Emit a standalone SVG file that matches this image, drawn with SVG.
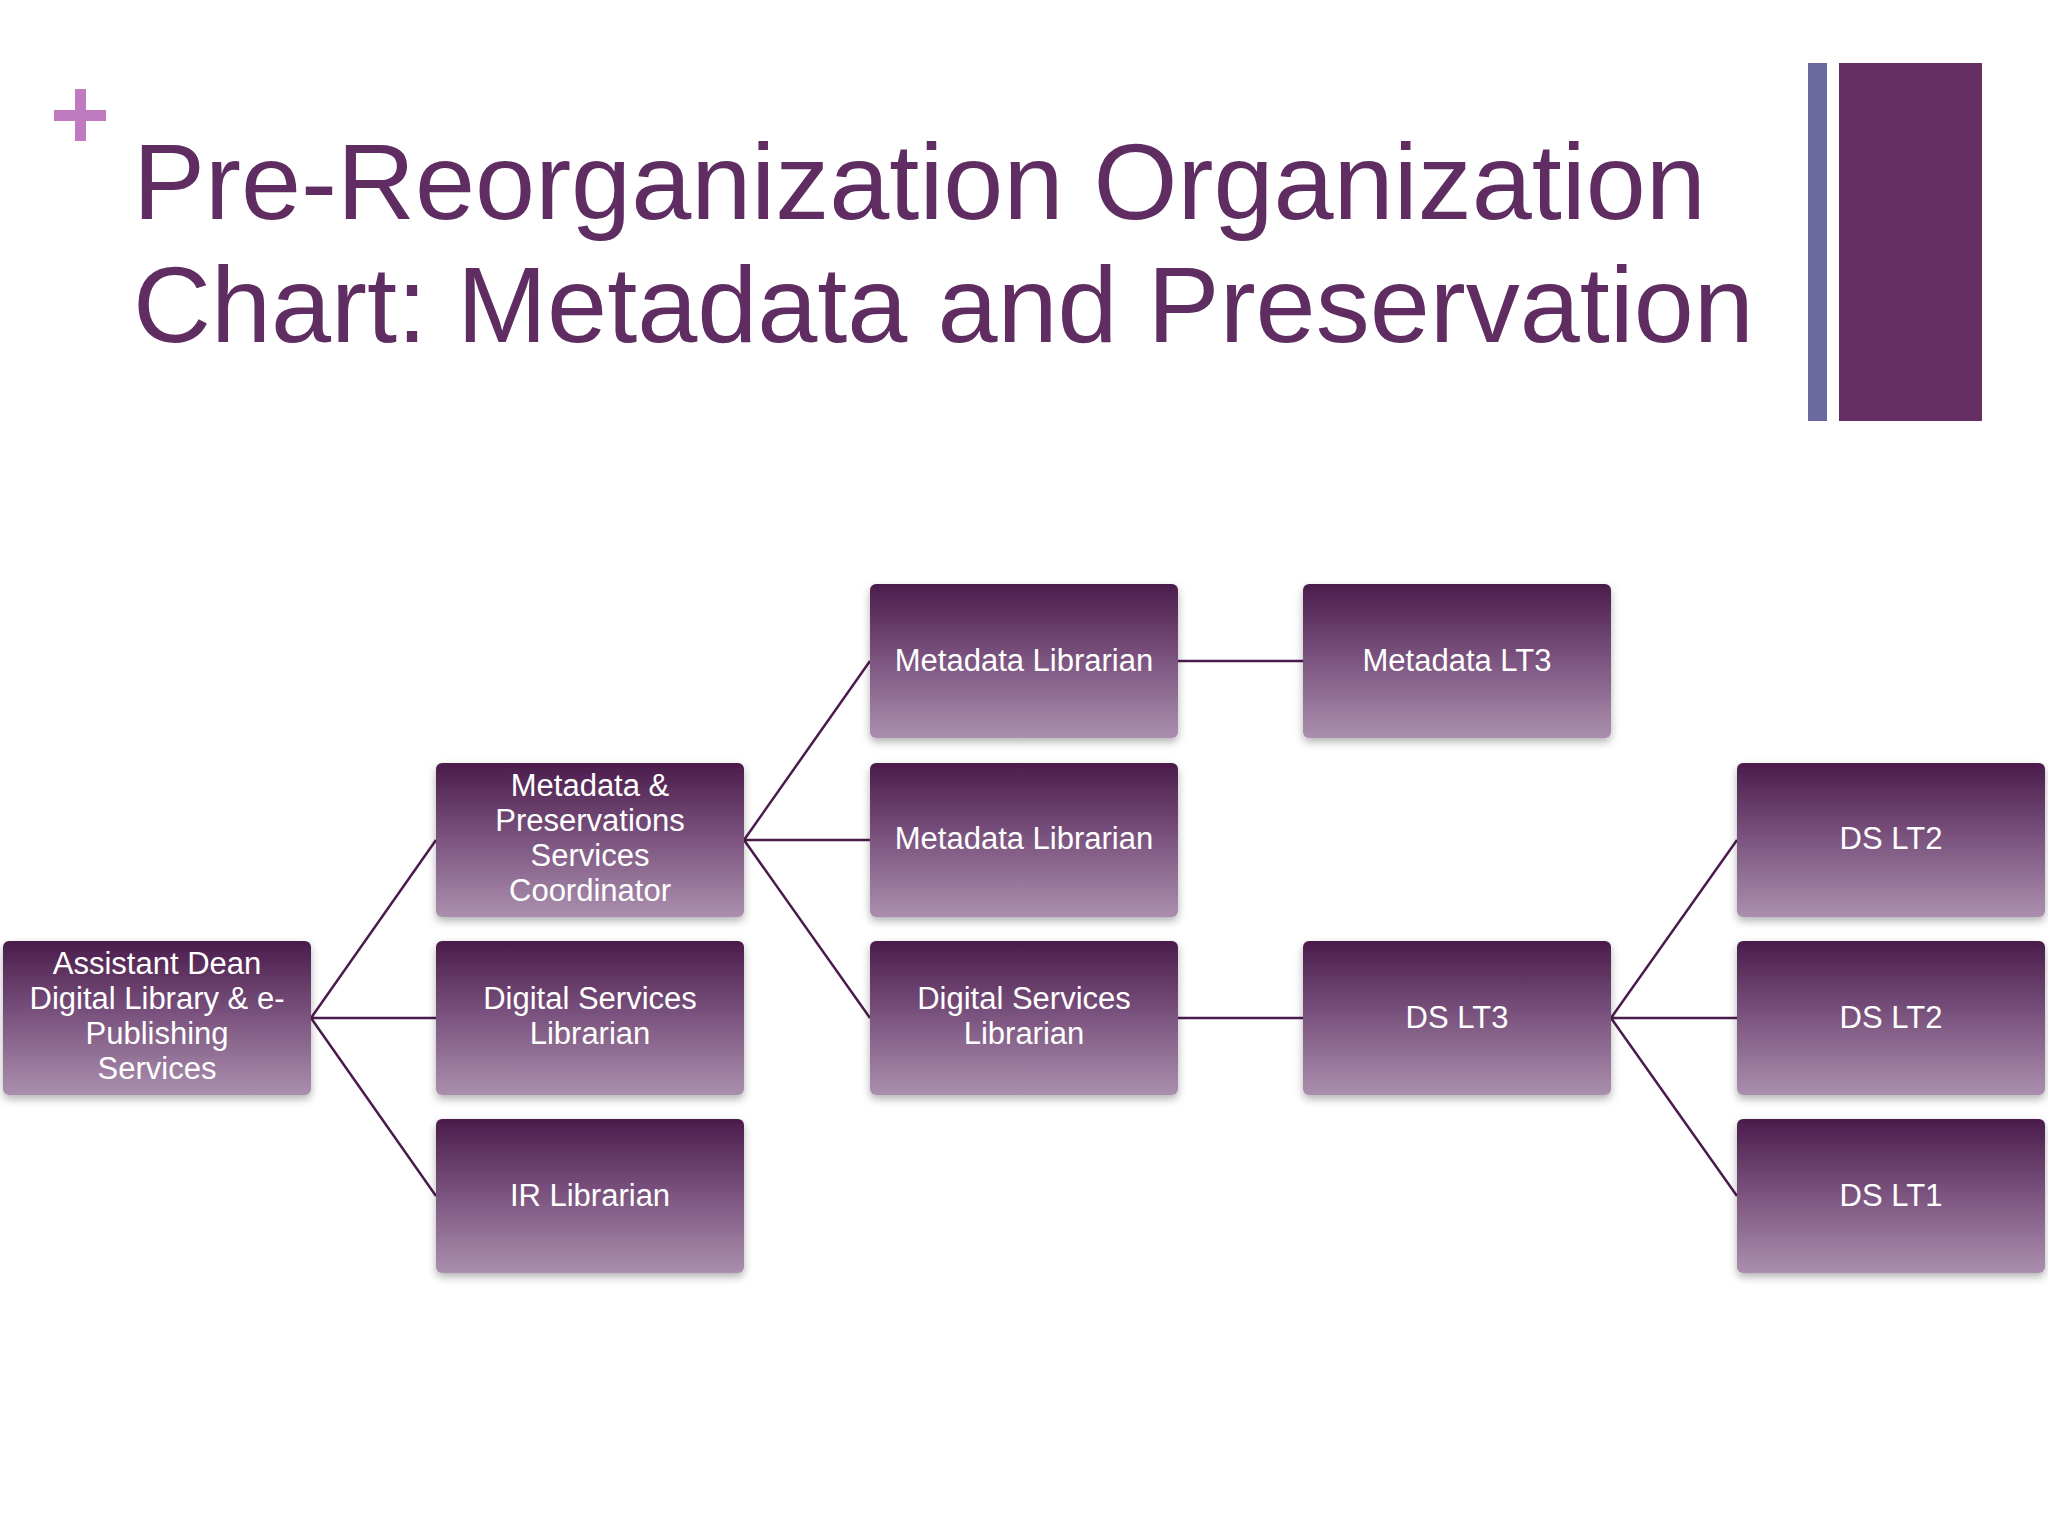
<svg xmlns="http://www.w3.org/2000/svg" width="2048" height="1536" viewBox="0 0 2048 1536">
<defs>
<linearGradient id="g" x1="0" y1="0" x2="0" y2="1">
<stop offset="0" stop-color="#4a1c4b"/><stop offset="0.5" stop-color="#7c5580"/><stop offset="1" stop-color="#ab8fae"/>
</linearGradient>
<filter id="sh" x="-10%" y="-10%" width="120%" height="130%"><feDropShadow dx="0" dy="4" stdDeviation="4" flood-color="#000" flood-opacity="0.3"/></filter>
</defs>
<style>
.b{fill:url(#g);filter:url(#sh)}
.t{font-family:"Liberation Sans",Arial,sans-serif;font-size:31px;fill:#fff;text-anchor:middle}
.c{stroke:#4a1c4b;stroke-width:2.5;fill:none}
.h{font-family:"Liberation Sans",Arial,sans-serif;font-size:108px;fill:#5f2d62}
</style>
<rect width="2048" height="1536" fill="#fff"/>
<rect x="54" y="110" width="52" height="11" fill="#c07ac0"/><rect x="75" y="89" width="11" height="52" fill="#c07ac0"/>
<text class="h" x="133" y="219">Pre-Reorganization Organization</text>
<text class="h" x="133" y="342">Chart: Metadata and Preservation</text>
<rect x="1808" y="63" width="19" height="358" fill="#6a6a9e"/>
<rect x="1839" y="63" width="143" height="358" fill="#652f63"/>
<g id="connectors">
<path class="c" d="M311 1018L436 840M311 1018L436 1018M311 1018L436 1196"/>
<path class="c" d="M744 840L870 661M744 840L870 840M744 840L870 1018"/>
<path class="c" d="M1178 661L1303 661M1178 1018L1303 1018"/>
<path class="c" d="M1611 1018L1737 840M1611 1018L1737 1018M1611 1018L1737 1196"/>
</g>
<g id="n1"><rect class="b" x="3" y="941" width="308" height="154" rx="6"/><text class="t" x="157" y="974">Assistant Dean</text><text class="t" x="157" y="1009">Digital Library &amp; e-</text><text class="t" x="157" y="1044">Publishing</text><text class="t" x="157" y="1079">Services</text></g>
<g id="n2"><rect class="b" x="436" y="763" width="308" height="154" rx="6"/><text class="t" x="590" y="796">Metadata &amp;</text><text class="t" x="590" y="831">Preservations</text><text class="t" x="590" y="866">Services</text><text class="t" x="590" y="901">Coordinator</text></g>
<g id="n3"><rect class="b" x="436" y="941" width="308" height="154" rx="6"/><text class="t" x="590" y="1009">Digital Services</text><text class="t" x="590" y="1044">Librarian</text></g>
<g id="n4"><rect class="b" x="436" y="1119" width="308" height="154" rx="6"/><text class="t" x="590" y="1206">IR Librarian</text></g>
<g id="n5"><rect class="b" x="870" y="584" width="308" height="154" rx="6"/><text class="t" x="1024" y="671">Metadata Librarian</text></g>
<g id="n6"><rect class="b" x="870" y="763" width="308" height="154" rx="6"/><text class="t" x="1024" y="849">Metadata Librarian</text></g>
<g id="n7"><rect class="b" x="870" y="941" width="308" height="154" rx="6"/><text class="t" x="1024" y="1009">Digital Services</text><text class="t" x="1024" y="1044">Librarian</text></g>
<g id="n8"><rect class="b" x="1303" y="584" width="308" height="154" rx="6"/><text class="t" x="1457" y="671">Metadata LT3</text></g>
<g id="n9"><rect class="b" x="1303" y="941" width="308" height="154" rx="6"/><text class="t" x="1457" y="1028">DS LT3</text></g>
<g id="n10"><rect class="b" x="1737" y="763" width="308" height="154" rx="6"/><text class="t" x="1891" y="849">DS LT2</text></g>
<g id="n11"><rect class="b" x="1737" y="941" width="308" height="154" rx="6"/><text class="t" x="1891" y="1028">DS LT2</text></g>
<g id="n12"><rect class="b" x="1737" y="1119" width="308" height="154" rx="6"/><text class="t" x="1891" y="1206">DS LT1</text></g>
</svg>
